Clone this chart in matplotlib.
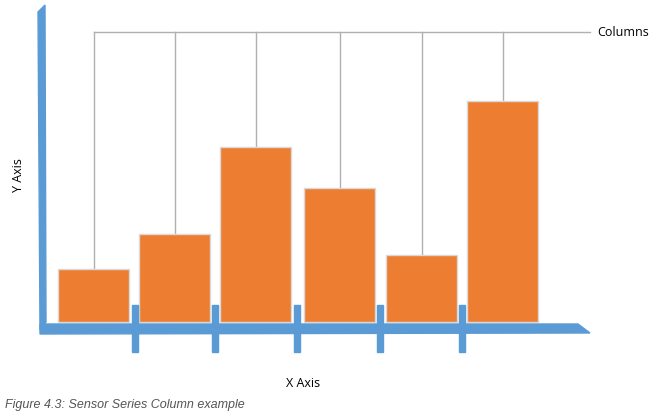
import matplotlib
matplotlib.use("Agg")
import matplotlib.pyplot as plt
from matplotlib.patches import Polygon

categories = ["C1", "C2", "C3", "C4", "C5", "C6"]
values = [53, 88, 175, 134, 67, 221]
series_label = "Columns"

W, H = 664, 419
fig = plt.figure(figsize=(W/100, H/100), dpi=100)
ax = fig.add_axes([0, 0, 1, 1])
ax.set_xlim(0, W); ax.set_ylim(H, 0); ax.axis("off")

blue = "#5B9BD5"; orange = "#ED7D31"; grey = "#B0B0B0"
base = 322
lefts = [58, 139, 220, 304, 386, 467]
bw = 71

# axes
ax.add_patch(Polygon([(38, 12), (45, 5), (46, 322), (40, 330)], closed=True, color=blue, zorder=3))
ax.add_patch(Polygon([(40, 324), (578, 324), (590, 333), (40, 334)], closed=True, color=blue, zorder=3))
for tx in [135, 215, 297, 380, 462]:
    ax.add_patch(plt.Rectangle((tx-3, 305), 6, 47, color=blue, zorder=3))

# bars
centers = [l + bw/2 for l in lefts]
ax.bar(centers, [-v for v in values], bottom=base, width=bw, color=orange,
       edgecolor="#D9D9D9", linewidth=1, zorder=2)
for c, v in zip(centers, values):
    ax.plot([c, c], [32, base - v], color=grey, lw=1, zorder=1)
ax.plot([centers[0], 590], [32, 32], color=grey, lw=1, zorder=1)
ax.text(597, 32, series_label, fontsize=9, va="center", ha="left", family="Open Sans")

ax.text(18, 175, "Y Axis", rotation=90, fontsize=9, va="center", ha="center", family="Open Sans")
ax.text(303, 383, "X Axis", fontsize=9, va="center", ha="center", family="Open Sans")
ax.text(5, 405, "Figure 4.3: Sensor Series Column example", fontsize=9, style="italic",
        color="#555555", va="center", ha="left", family="Liberation Sans")
fig.savefig("out.png", dpi=100)
